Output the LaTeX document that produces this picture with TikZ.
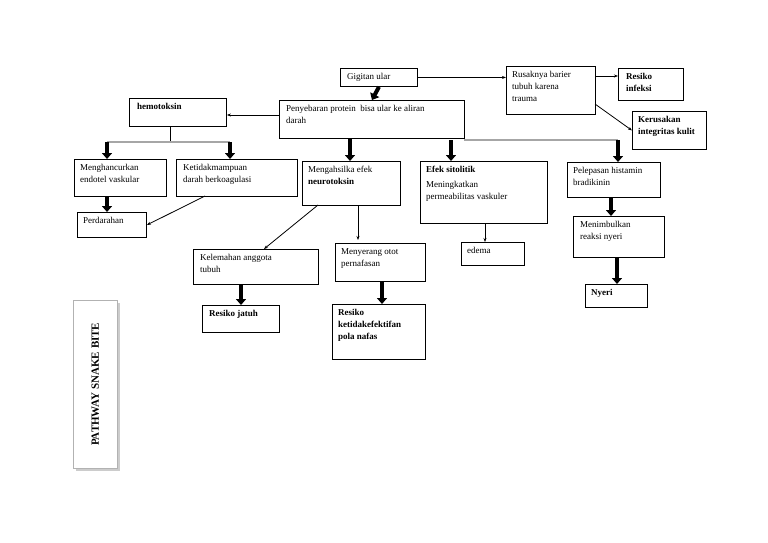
\documentclass[tikz,border=0pt]{standalone}
\usepackage{fontspec}
\setmainfont{Liberation Serif}
\usetikzlibrary{arrows.meta,calc}
\begin{document}
\begin{tikzpicture}[x=1pt,y=-1pt,
  box/.style={draw,line width=0.9pt,inner sep=0pt,anchor=north west},
  txt/.style={anchor=north west,align=left,font=\fontsize{9}{12}\selectfont,inner sep=0pt},
  thin/.style={-{Stealth[length=4pt,width=3pt]},line width=0.8pt},
  thick/.style={-{Triangle[length=6pt,width=10pt]},line width=4pt},
  bar/.style={line width=1.2pt,gray!70}]
\useasboundingbox (0,0) rectangle (768,543);
\newcommand{\bx}[7]{\node[box,minimum width=#4-#2,minimum height=#5-#3] (#1) at (#2,#3) {};
  \node[txt] at (#2+#6,#3+5) {#7};}
\bx{gig}{340}{68}{417}{86}{7}{Gigitan ular}
\bx{pen}{279}{100}{464}{138}{7}{Penyebaran protein\ \ bisa ular ke aliran\\darah}
\bx{hem}{129}{98}{226}{126}{8}{\textbf{hemotoksin}}
\bx{rus}{506}{66}{595}{114}{6}{Rusaknya barier\\tubuh karena\\trauma}
\bx{inf}{618}{68}{683}{100}{8}{\textbf{Resiko}\\\textbf{infeksi}}
\bx{ker}{632}{111}{706}{149}{6}{\textbf{Kerusakan}\\\textbf{integritas kulit}}
\bx{men}{74}{159}{166}{196}{6}{Menghancurkan\\endotel vaskular}
\bx{ket}{176}{159}{297}{196}{7}{Ketidakmampuan\\darah berkoagulasi}
\bx{per}{77}{212}{146}{237}{6}{Perdarahan}
\bx{neu}{302}{161}{400}{205}{6}{Mengahsilka efek\\\textbf{neurotoksin}}
\bx{sit}{420}{161}{547}{223}{6}{\textbf{Efek sitolitik}\\[3pt]Meningkatkan\\permeabilitas vaskuler}
\bx{pel}{567}{162}{660}{197}{6}{Pelepasan histamin\\bradikinin}
\bx{nyr}{573}{216}{664}{257}{7}{Menimbulkan\\reaksi nyeri}
\bx{ede}{461}{242}{524}{265}{6}{edema}
\bx{ny}{585}{284}{647}{307}{6}{\textbf{Nyeri}}
\bx{kel}{193}{249}{318}{284}{7}{Kelemahan anggota\\tubuh}
\bx{mny}{335}{243}{425}{281}{6}{Menyerang otot\\pernafasan}
\bx{jat}{202}{305}{279}{332}{7}{\textbf{Resiko jatuh}}
\bx{pol}{332}{304}{425}{359}{6}{\textbf{Resiko}\\\textbf{ketidakefektifan}\\\textbf{pola nafas}}
% sidebar
\fill[gray!40] (76,303) rectangle (120,471);
\node[draw=gray!60,fill=white,line width=0.6pt,anchor=north west,minimum width=44,minimum height=168,inner sep=0pt] (side) at (73,300) {};
\node[rotate=90,font=\fontsize{11}{13}\selectfont\bfseries] at (side.center) {PATHWAY SNAKE BITE};
% connectors
\coordinate (c1) at (375,86); \coordinate (c2) at (375,100);
\draw[thick] (gig.south) -- (pen.north);
\draw[thin] (gig.east) -- (rus.west|-gig.east);
\draw[thin] (pen.west|-0,115) -- (hem.east|-0,115);
\draw[thin] (rus.east|-0,76) -- (inf.west|-0,76);
\draw[thin] (595,104) -- (ker.west);
\draw[line width=0.9pt] (170,126) -- (170,142);
\draw[bar] (107,142) -- (230,142);
\draw[thick] (107,142) -- (men.north-|107,0);
\draw[thick] (230,142) -- (ket.north-|230,0);
\draw[bar] (464,140) -- (618,140);
\draw[thick] (350,138) -- (neu.north-|350,0);
\draw[thick] (451,140) -- (sit.north-|451,0);
\draw[thick] (618,140) -- (pel.north-|618,0);
\draw[thick] (men.south-|107,0) -- (per.north-|107,0);
\draw[thin] (205,196) -- (per.east);
\draw[thin] (318,205) -- (264,249);
\draw[thin] (358,205) -- (358,240);
\draw[thick] (kel.south-|241,0) -- (jat.north-|241,0);
\draw[thick] (mny.south-|382,0) -- (pol.north-|382,0);
\draw[thin] (sit.south-|485,0) -- (ede.north-|485,0);
\draw[thick] (pel.south-|611,0) -- (nyr.north-|611,0);
\draw[thick] (nyr.south-|617,0) -- (ny.north-|617,0);
\end{tikzpicture}
\end{document}
